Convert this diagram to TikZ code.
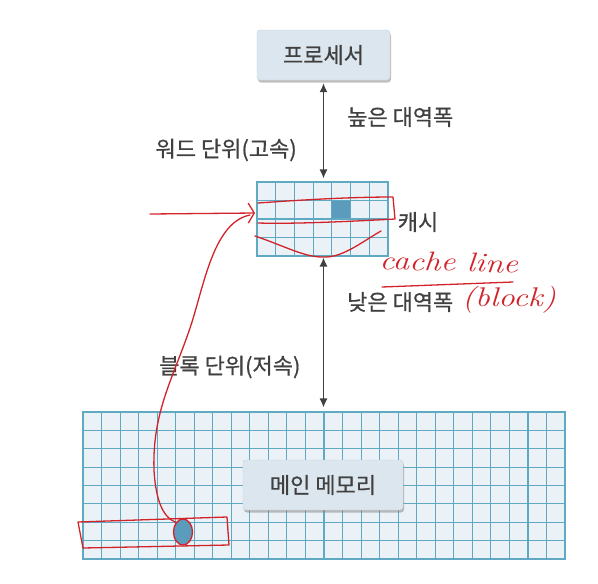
\documentclass[tikz,border=0pt]{standalone}
\usepackage{fontspec}
\newfontfamily\krfont[FakeBold=0.6]{Noto Sans CJK KR}
\usepackage{tikz}
\usetikzlibrary{arrows.meta, shadows, shapes.geometric}
\usetikzlibrary{positioning}
\definecolor{boxfill}{HTML}{DCE6EE}
\definecolor{cellfill}{HTML}{EAF2F7}
\definecolor{cellline}{HTML}{5FAAC2}
\definecolor{hitcell}{HTML}{5B9CBC}
\definecolor{pen}{HTML}{D2232A}

\begin{document}
\begin{tikzpicture}[x=1pt, y=-1pt,
titlebox/.style={rectangle, rounded corners=3pt, fill=boxfill, draw=boxfill!80!gray, drop shadow={shadow xshift=1pt, shadow yshift=-2.5pt, opacity=0.5}, font=\krfont\fontsize{22}{24}\selectfont, text=black!75},
gridbox/.style={rectangle, fill=cellfill, draw=cellline, line width=1.1pt, inner sep=0pt},
gridline/.style={cellline, line width=1.1pt},
bandtext/.style={font=\krfont\fontsize{22}{24}\selectfont, text=black!75, inner sep=1pt},
bus/.style={line width=1.3pt, black!75, {Latex[length=9pt,width=8pt]}-{Latex[length=9pt,width=8pt]}},
ink/.style={pen, line width=1.3pt, line cap=round, line join=round},
scrawl/.style={pen, font=\itshape\fontsize{27}{29}\selectfont, inner sep=1pt, xscale=1.22, transform shape},
]
\useasboundingbox (0,0) rectangle (598,584);

%Nodes
\node[titlebox, minimum width=133pt, minimum height=50pt] (proc) at (323.5,55) {프로세서};
\node[gridbox, minimum width=131pt, minimum height=74pt] (cache) at (322.5,219) {};
\node[gridbox, minimum width=482pt, minimum height=147pt] (mem) at (324,485.5) {};

% grid of the cache
\foreach \i in {1,...,6}
  \draw[gridline] ({257+\i*18.714},182) -- ({257+\i*18.714},256);
\foreach \j in {1,...,3}
  \draw[gridline] (257,{182+\j*18.5}) -- (388,{182+\j*18.5});
\draw[gridline, fill=hitcell] (331.9,200.5) rectangle (350.6,219);

% grid of the main memory
\foreach \i in {1,...,25}
  \draw[gridline] ({83+\i*18.54},412) -- ({83+\i*18.54},559);
\foreach \j in {1,...,7}
  \draw[gridline] (83,{412+\j*18.375}) -- (565,{412+\j*18.375});

\node[titlebox, minimum width=160pt, minimum height=50pt] (memlabel) at (323,485) {메인 메모리};

\node[bandtext, anchor=west] (hiband) at (346,117) {높은 대역폭};
\node[bandtext, anchor=east] (wordunit) at (298,150) {워드 단위(고속)};
\node[bandtext, right=8pt of cache, yshift=-3pt] (cachename) {캐시};
\node[bandtext, anchor=west] (loband) at (346,302) {낮은 대역폭};
\node[bandtext, anchor=west] (blockunit) at (158,367) {블록 단위(저속)};

%Lines
\draw[bus, shorten <=3pt, shorten >=3pt] (proc.south) -- (proc.south |- cache.north);
\draw[bus, shorten <=1pt, shorten >=4pt] (proc.south |- cache.south) -- (proc.south |- mem.north);

% red pen notes
\node[ellipse, draw=pen, line width=1.3pt, fill=hitcell, minimum width=19pt, minimum height=26pt, inner sep=0pt] (blob) at (183,532) {};
\node[scrawl, rotate=-2] (lineword) at (449,262) {cache line};
\node[scrawl] (blockword) at (509,300) {(block)};
\coordinate (inlet) at (150,214);
\coordinate (hook) at (250,215);

\draw[ink, -{Straight Barb[length=6pt, width=20pt]}] (inlet) -- (255,213);
\draw[ink] (258,203) .. controls (300,200) and (350,197) .. (393,197)
  -- (395,219) .. controls (340,222) and (290,224) .. (258,223);
\draw[ink] (255,236) .. controls (290,248) and (305,258) .. (327,257)
  .. controls (345,256) and (365,240) .. (381,231);
\draw[ink] (382,287) -- (513,282);
\draw[ink] (hook) .. controls (215,222) and (205,280) .. (192,322)
  .. controls (175,375) and (152,410) .. (154,470)
  .. controls (156,505) and (165,518) .. (blob.north west);
\draw[ink] (78,522) -- (227,517) -- (229,545) -- (83,548) -- cycle;
\end{tikzpicture}
\end{document}
